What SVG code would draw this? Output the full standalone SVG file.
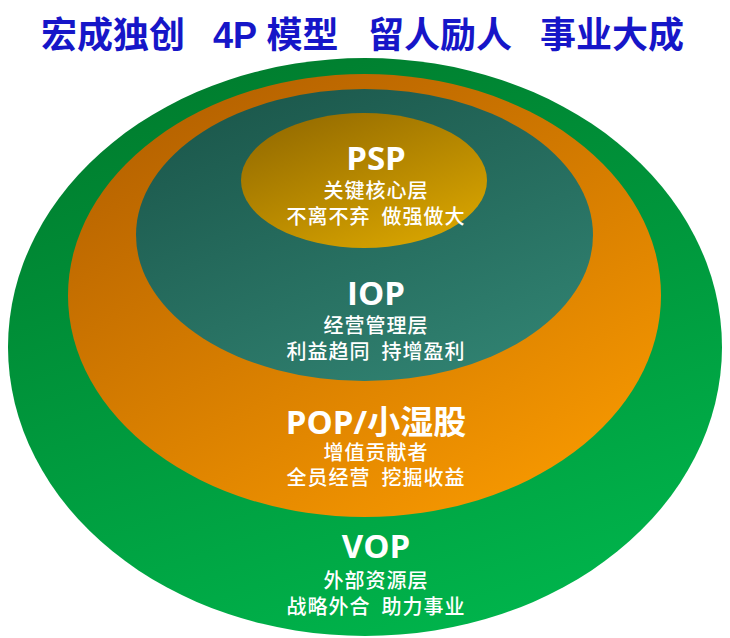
<svg xmlns="http://www.w3.org/2000/svg" width="730" height="638" viewBox="0 0 730 638">
  <defs>
    <linearGradient id="gGreen" x1="0.3" y1="0" x2="0.7" y2="1">
      <stop offset="0" stop-color="#007d2e"/>
      <stop offset="1" stop-color="#00b54c"/>
    </linearGradient>
    <linearGradient id="gOrange" x1="0.15" y1="0" x2="0.85" y2="1">
      <stop offset="0" stop-color="#b25f00"/>
      <stop offset="1" stop-color="#fa9b00"/>
    </linearGradient>
    <linearGradient id="gTeal" x1="0.2" y1="0" x2="0.8" y2="1">
      <stop offset="0" stop-color="#1b574b"/>
      <stop offset="1" stop-color="#318372"/>
    </linearGradient>
    <linearGradient id="gGold" x1="0.15" y1="0" x2="0.85" y2="1">
      <stop offset="0" stop-color="#936a00"/>
      <stop offset="1" stop-color="#dba700"/>
    </linearGradient>
  </defs>
  <style>
    .title { font-family: "Liberation Sans", "Noto Sans CJK SC", sans-serif; font-size: 36px; font-weight: bold; fill: #1616c8; }
    .head { font-family: "Open Sans", "Noto Sans CJK SC", sans-serif; font-size: 33px; font-weight: bold; fill: #ffffff; text-anchor: middle; }
    .sub { font-family: "Noto Sans CJK SC", sans-serif; font-size: 20px; font-weight: 500; letter-spacing: 1px; fill: #ffffff; text-anchor: middle; }
  </style>
  <rect width="730" height="638" fill="#ffffff"/>

  <g id="title">
    <text class="title" x="41" y="48">宏成独创</text>
    <text class="title" x="213" y="48" xml:space="preserve">4P 模型</text>
    <text class="title" x="368" y="48">留人励人</text>
    <text class="title" x="540" y="48">事业大成</text>
  </g>

  <g id="vop">
    <ellipse cx="365" cy="347" rx="357" ry="289" fill="url(#gGreen)"/>
    <text class="head" x="376" y="558">VOP</text>
    <text class="sub" x="376" y="588">外部资源层</text>
    <text class="sub" x="376" y="614" xml:space="preserve">战略外合  助力事业</text>
  </g>

  <g id="pop">
    <ellipse cx="364.5" cy="295.5" rx="296.5" ry="221.5" fill="url(#gOrange)"/>
    <text class="head" x="376" y="434">POP/小湿股</text>
    <text class="sub" x="376" y="460">增值贡献者</text>
    <text class="sub" x="376" y="485" xml:space="preserve">全员经营  挖掘收益</text>
  </g>

  <g id="iop">
    <ellipse cx="364.5" cy="235" rx="228.5" ry="146" fill="url(#gTeal)"/>
    <text class="head" x="376" y="305">IOP</text>
    <text class="sub" x="376" y="333">经营管理层</text>
    <text class="sub" x="376" y="359" xml:space="preserve">利益趋同  持增盈利</text>
  </g>

  <g id="psp">
    <ellipse cx="364" cy="180.5" rx="123" ry="67.5" fill="url(#gGold)"/>
    <text class="head" x="376" y="170">PSP</text>
    <text class="sub" x="376" y="198">关键核心层</text>
    <text class="sub" x="376" y="224" xml:space="preserve">不离不弃  做强做大</text>
  </g>
</svg>
